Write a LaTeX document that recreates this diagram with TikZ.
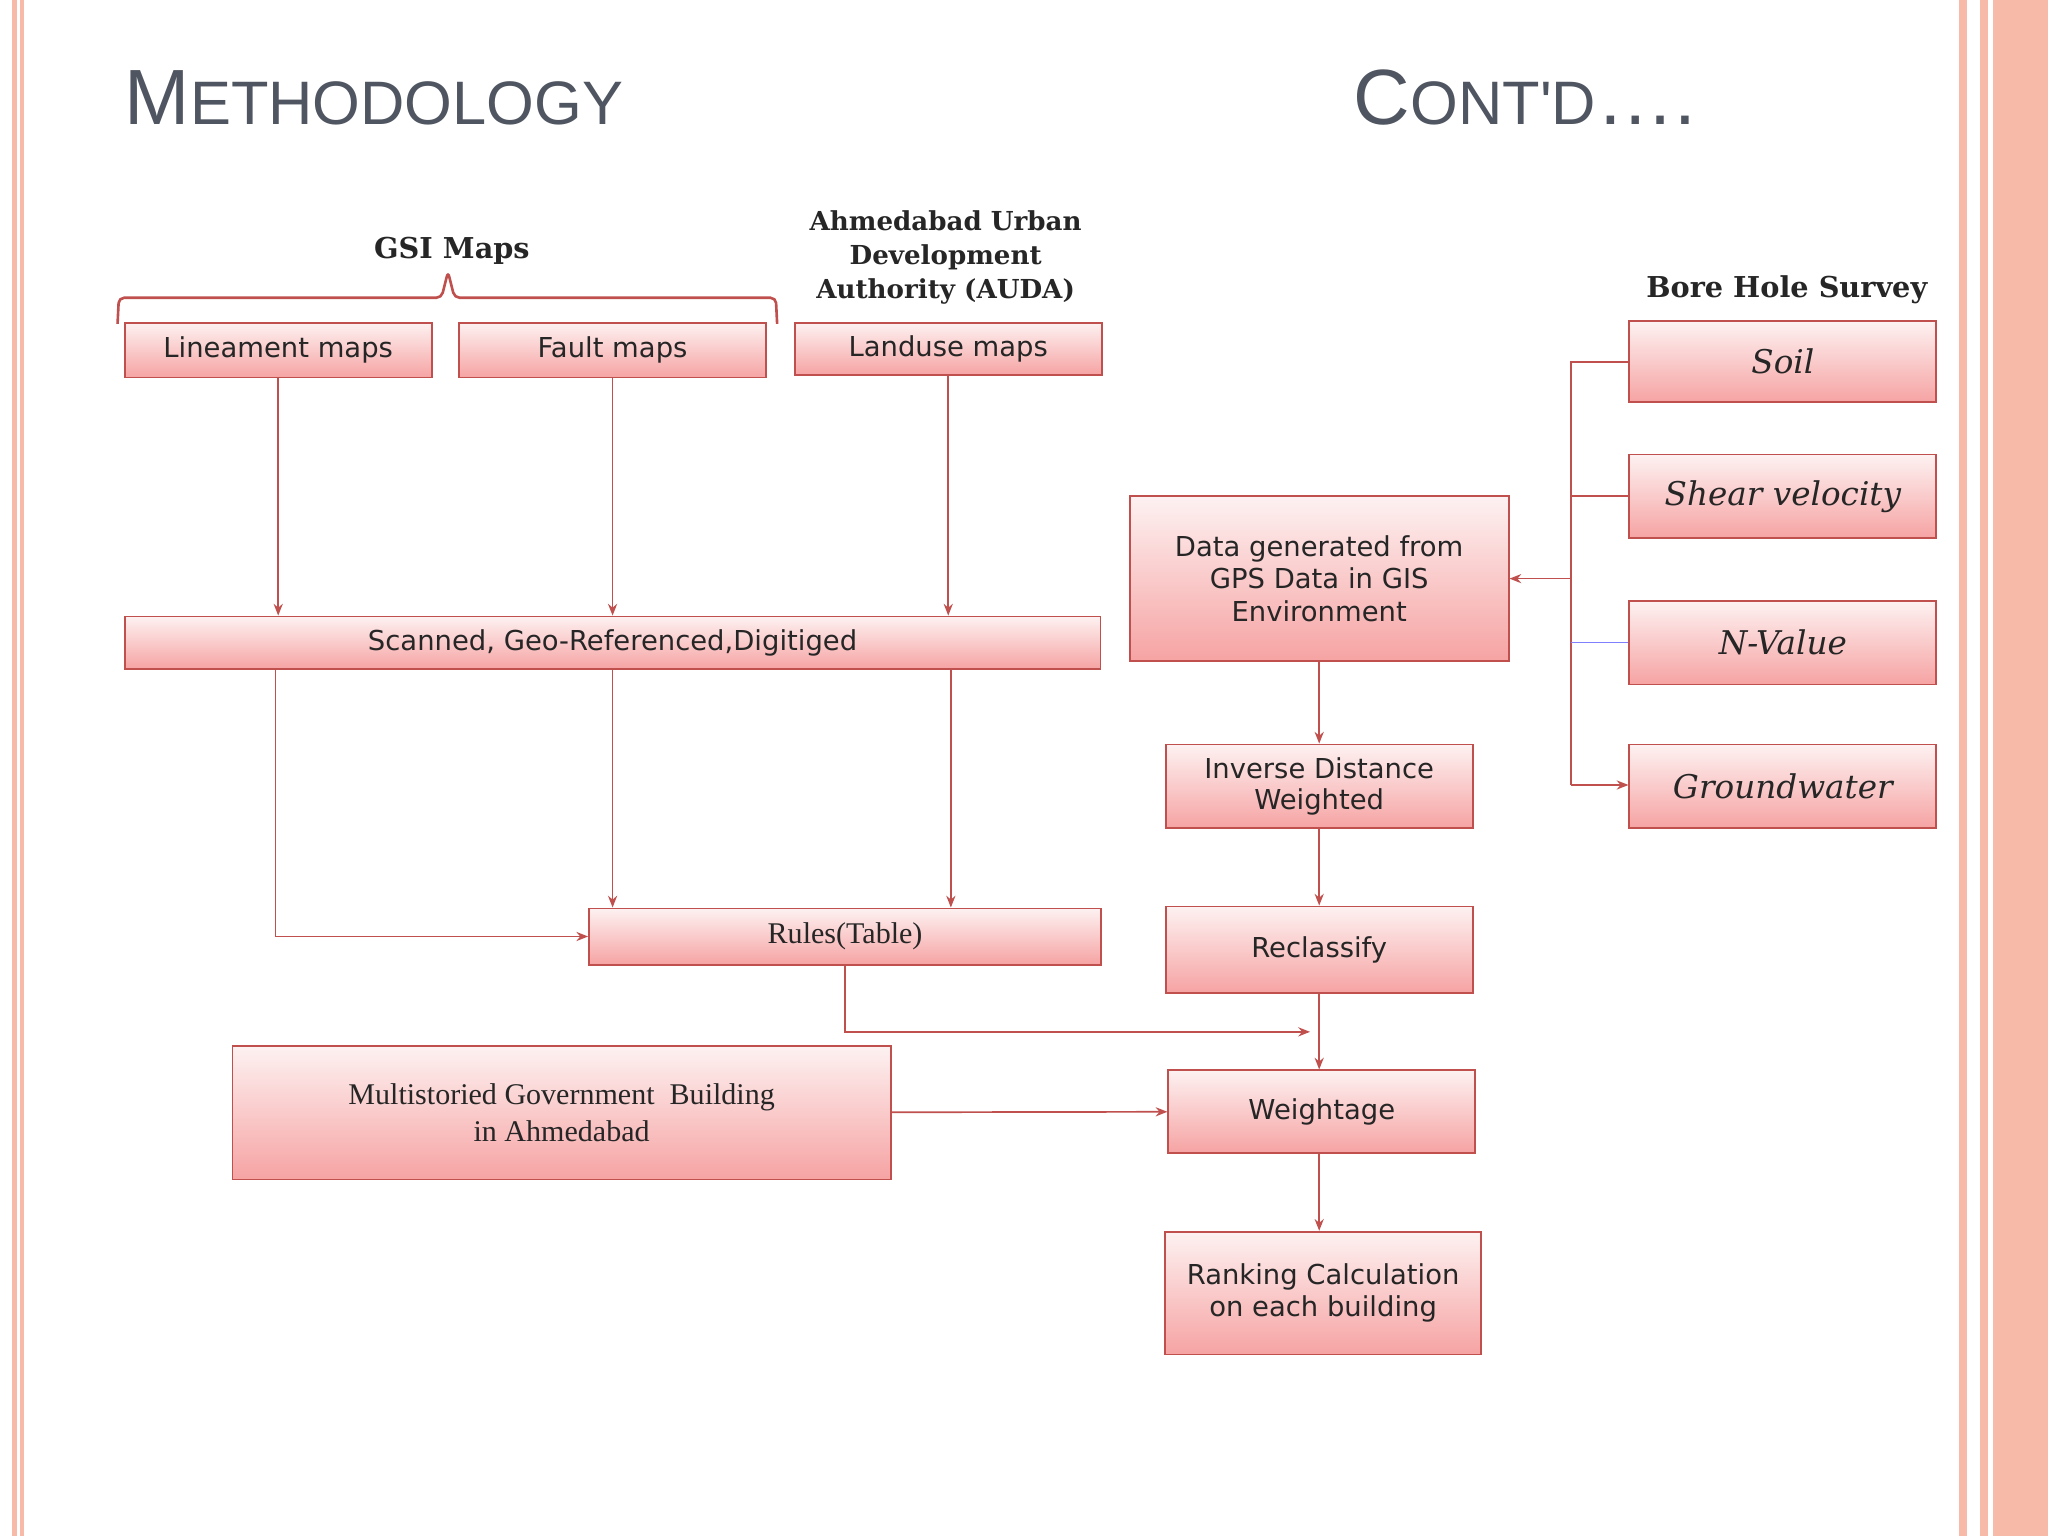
\documentclass[tikz,border=0pt]{standalone}
\usepackage{fontspec}
\setmainfont{DejaVu Sans}
\newfontfamily\tnr{Liberation Serif}
\newfontfamily\bk{DejaVu Serif}
\newfontfamily\ttl{Liberation Sans}
\usetikzlibrary{positioning,arrows.meta}
\definecolor{boxline}{HTML}{C0504D}
\definecolor{boxfill}{HTML}{F6A3A3}
\definecolor{ttlgray}{HTML}{505661}
\definecolor{edge}{HTML}{F7B9A8}
\tikzset{
  box/.style={draw=boxline, line width=1.4pt, top color=white!85!boxfill, bottom color=boxfill,
    align=center, inner sep=2pt, font=\fontsize{21}{25}\selectfont, text=black!85},
  lbl/.style={font=\bk\bfseries\fontsize{22}{25}\selectfont, align=center, text=black!85},
  arr/.style={draw=boxline, line width=1.3pt, -{Stealth[length=9pt,width=7pt]}},
  ln/.style={draw=boxline, line width=1.3pt}
}
\begin{document}
\begin{tikzpicture}[x=1pt,y=-1pt]
        % page and borders
        \useasboundingbox[fill=white] (0,0) rectangle (1568,1176);
        \fill[edge] (9,0) rectangle (13,1176);
        \fill[edge] (15,0) rectangle (18,1176);
        \fill[edge] (1500,0) rectangle (1506,1176);
        \fill[edge] (1516,0) rectangle (1568,1176);
        \fill[white] (1522,0) rectangle (1526,1176);

        % title
        \node[anchor=west, text=ttlgray, font=\ttl\fontsize{60}{60}\selectfont] (t1) at (92,75) {M{\fontsize{47}{47}\selectfont ETHODOLOGY}};
        \node[anchor=west, text=ttlgray, font=\ttl\fontsize{60}{60}\selectfont] (t2) at (1033,75) {C{\fontsize{47}{47}\selectfont ONT'D}\dots.};

        % map boxes
        \node[box, minimum width=235, minimum height=42] (lin) at (213,268) {Lineament maps};
        \node[box, minimum width=235, minimum height=42] (flt) at (469,268) {Fault maps};
        \node[box, minimum width=235, minimum height=40] (lnd) at (726,267) {Landuse maps};
        \node[lbl] (gsi) at (346,192) {GSI Maps};
        \node[lbl, font=\bk\bfseries\fontsize{20}{26}\selectfont] (auda) at (724,197) {Ahmedabad Urban\\Development\\Authority (AUDA)};
        \draw[ln, line width=2pt, rounded corners=4pt] (90,248) -- (91,228) -- (338,228) -- (343,208) -- (348,228) -- (594,228) -- (595,248);

        \node[box, minimum width=747, minimum height=40] (scn) at (469,492) {Scanned, Geo-Referenced,Digitiged};
        \node[box, minimum width=392, minimum height=43, font=\tnr\fontsize{23}{26}\selectfont] (rul) at (647,717) {Rules(Table)};
        \node[box, minimum width=504, minimum height=102, font=\tnr\fontsize{23}{28}\selectfont] (mgb) at (430,852) {Multistoried Government\ \ Building\\in Ahmedabad};

        % right column
        \node[box, minimum width=290, minimum height=126] (dat) at (1010,443) {Data generated from\\GPS Data in GIS\\Environment};
        \node[box, minimum width=235, minimum height=64, font=\fontsize{21}{24}\selectfont] (idw) at (1010,602) {Inverse Distance\\Weighted};
        \node[box, minimum width=235, minimum height=66] (rcl) at (1010,727) {Reclassify};
        \node[box, minimum width=235, minimum height=63] (wgt) at (1012,851) {Weightage};
        \node[box, minimum width=242, minimum height=94, font=\fontsize{21}{24}\selectfont] (rnk) at (1013,990) {Ranking Calculation\\on each building};

        % bore hole boxes
        \node[lbl] (bhs) at (1368,222) {Bore Hole Survey};
        \node[box, minimum width=235, minimum height=62, font=\bk\itshape\fontsize{25}{28}\selectfont] (soil) at (1365,277) {Soil};
        \node[box, minimum width=235, minimum height=64, font=\bk\itshape\fontsize{25}{28}\selectfont] (shv) at (1365,380) {Shear velocity};
        \node[box, minimum width=235, minimum height=64, font=\bk\itshape\fontsize{25}{28}\selectfont] (nv) at (1365,492) {N-Value};
        \node[box, minimum width=235, minimum height=64, font=\bk\itshape\fontsize{25}{28}\selectfont] (gw) at (1365,602) {Groundwater};

        % connectors
        \draw[arr] (lin) -- (lin |- scn.north);
        \draw[arr] (flt) -- (flt |- scn.north);
        \draw[arr] (lnd) -- (lnd |- scn.north);
        \draw[arr] ([xshift=-258]scn.south) |- (rul.west);
        \draw[arr] (scn.south -| flt) -- (rul.north -| flt);
        \draw[arr] ([xshift=259]scn.south) -- ([xshift=259]scn.south |- rul.north);
        \coordinate (jn) at (1003,790);
        \draw[arr] (rul.south) |- (jn);
        \draw[arr] (dat) -- (idw);
        \draw[arr] (idw) -- (rcl);
        \draw[arr] (rcl) -- (rcl |- wgt.north);
        \draw[arr] (mgb) -- (wgt);
        \draw[arr] (wgt.south -| rcl) -- (rnk.north -| rcl);
        \coordinate (bus) at (1203,443);
        \coordinate (gwj) at (1203,601);
        \draw[ln] (soil.west) -| (gwj);
        \draw[ln] (shv.west) -- (shv.west -| bus);
        \draw[draw=blue!50, line width=1.3pt] (nv.west) -- (nv.west -| bus);
        \draw[arr] (gwj) -- (gw.west |- gwj);
        \draw[arr] (bus) -- (dat.east);
    \end{tikzpicture}
\end{document}
